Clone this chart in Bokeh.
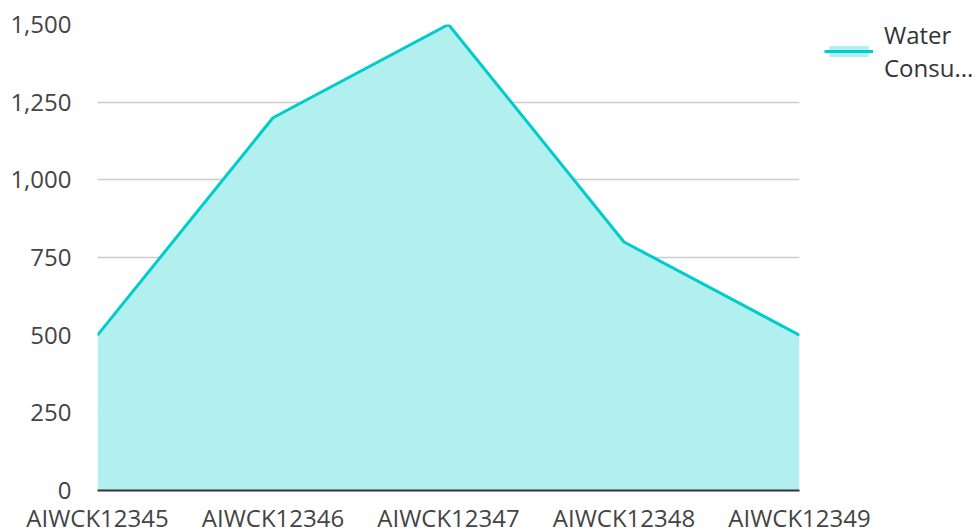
from bokeh.plotting import figure
from bokeh.models import Range1d, FixedTicker, Legend, LegendItem, NumeralTickFormatter
from bokeh.embed import file_html
from bokeh.resources import INLINE

categories = ["AIWCK12345", "AIWCK12346", "AIWCK12347", "AIWCK12348", "AIWCK12349"]
water = [500, 1200, 1500, 800, 500]
y_ticks = [0, 250, 500, 750, 1000, 1250, 1500]
series_name = "Water\nConsu..."

xs = list(range(len(categories)))

p = figure(width=978, height=532, output_backend="svg", toolbar_location=None,
           x_range=Range1d(0, len(categories) - 1), y_range=Range1d(0, 1500),
           min_border_left=97, min_border_top=24, min_border_right=179, min_border_bottom=10)
p.frame_width = 702
p.frame_height = 466
p.outline_line_color = None
p.background_fill_color = "white"

area = p.varea(x=xs, y1=[0] * len(xs), y2=water, fill_color="#b2efef", fill_alpha=1.0)
line = p.line(x=xs, y=water, line_color="#00cccc", line_width=3)

font = "Open Sans"
p.xaxis.ticker = FixedTicker(ticks=xs)
p.xaxis.major_label_overrides = {i: c for i, c in enumerate(categories)}
p.yaxis.ticker = FixedTicker(ticks=y_ticks)
p.yaxis.formatter = NumeralTickFormatter(format="0,0")
for ax in (p.xaxis[0], p.yaxis[0]):
    ax.major_label_text_font = font
    ax.major_label_text_font_size = "24px"
    ax.major_label_text_color = "#444444"
    ax.major_tick_line_color = None
    ax.minor_tick_line_color = None
p.xaxis.axis_line_color = "#333333"
p.xaxis.axis_line_width = 2
p.xaxis.major_label_standoff = 4
p.yaxis.axis_line_color = None
p.yaxis.major_label_standoff = 20

p.xgrid.grid_line_color = None
p.ygrid.grid_line_color = "#cccccc"
p.ygrid.grid_line_width = 1.5

legend = Legend(items=[LegendItem(label=series_name, renderers=[area, line])],
                location=(25, 406), border_line_color=None,
                label_text_font=font, label_text_font_size="24px",
                label_text_color="#333333", glyph_width=49, glyph_height=14,
                padding=0, margin=0, label_standoff=11)
legend.background_fill_alpha = 0
p.add_layout(legend, "right")

open("out.html", "w").write(file_html(p, INLINE))
